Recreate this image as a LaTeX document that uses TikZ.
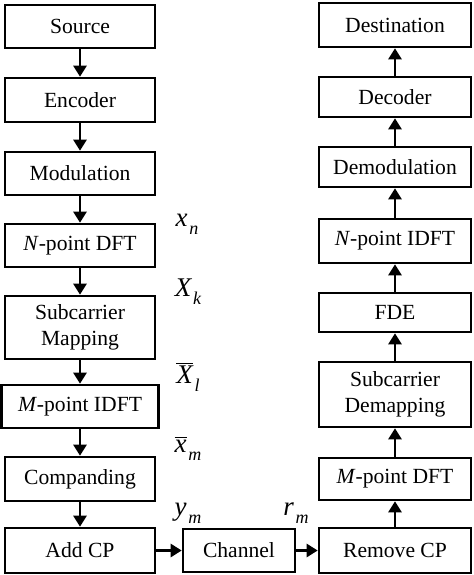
\documentclass[tikz,border=0pt]{standalone}
\usepackage{fontspec}
\setmainfont{Liberation Serif}
\usetikzlibrary{arrows.meta}
\tikzset{
  block/.style = { draw, line width=1.3pt, minimum width=75pt, minimum height=22pt, inner sep=0pt, align=center, font=\fontsize{10.8}{12.8}\selectfont },
  flow/.style  = { line width=1.3pt, -{Triangle[length=5.5pt,width=6.5pt]} },
  sig/.style   = { font=\fontsize{13.5}{13.5}\selectfont\itshape, inner sep=0pt }
}
\newcommand{\sigsub}[2]{#1\kern0.8pt\raisebox{-0.65ex}{\fontsize{9}{9}\selectfont #2}}

\begin{document}
\begin{tikzpicture}[x=0.5pt,y=-0.5pt]
\useasboundingbox (0,0) rectangle (474,575);
\node[block, minimum height=21.5pt] (src) at (80,26.5) {Source};
\node[block] (enc) at (80,100) {Encoder};
\node[block, minimum height=21.5pt] (mod) at (80,173.5) {Modulation};
\node[block, minimum height=21.5pt] (ndft) at (80,245.5) {\textit{N}-point DFT};
\node[block, minimum height=31.5pt] (map) at (80,327.5) {Subcarrier\\Mapping};
\node[block, minimum height=21.5pt, minimum width=78.5pt] (midft) at (80,406.5) {\textit{M}-point IDFT};
\node[block] (comp) at (80,479) {Companding};
\node[block, minimum height=22.5pt] (addcp) at (80,550.5) {Add CP};
\node[block, minimum height=21.5pt, minimum width=56pt] (chan) at (239,550.5) {Channel};
\node[block, minimum height=22.5pt, minimum width=76pt] (rmcp) at (395,550.5) {Remove CP};
\node[block, minimum height=21pt, minimum width=76pt] (mdft) at (395,479) {\textit{M}-point DFT};
\node[block, minimum height=32.5pt, minimum width=76pt] (demap) at (395,394.5) {Subcarrier\\Demapping};
\node[block, minimum height=19.5pt, minimum width=76pt] (fde) at (395,312.5) {FDE};
\node[block, minimum width=76pt] (nidft) at (395,241) {\textit{N}-point IDFT};
\node[block, minimum height=20pt, minimum width=76pt] (demod) at (395,167) {Demodulation};
\node[block, minimum height=20pt, minimum width=76pt] (dec) at (395,97) {Decoder};
\node[block, minimum width=76pt] (dest) at (395,25) {Destination};

\node[sig] (xn) at (187,224) {\sigsub{x}{n}};
\node[sig] (Xk) at (188,292) {\sigsub{X}{k}};
\node[sig] (Xl) at (188,377) {\sigsub{$\overline{\mbox{\itshape X}}$}{l}};
\node[sig] (xm) at (188,448) {\sigsub{$\overline{\mbox{\itshape x}}$}{m}};
\node[sig] (ym) at (188,513) {\sigsub{y}{m}};
\node[sig] (rm) at (296,513) {\sigsub{r}{m}};

\draw[flow] (src) -- (enc);
\draw[flow] (enc) -- (mod);
\draw[flow] (mod) -- (ndft);
\draw[flow] (ndft) -- (map);
\draw[flow] (map) -- (midft);
\draw[flow] (midft) -- (comp);
\draw[flow] (comp) -- (addcp);
\draw[flow] (addcp) -- (chan);
\draw[flow] (chan) -- (rmcp);
\draw[flow] (rmcp) -- (mdft);
\draw[flow] (mdft) -- (demap);
\draw[flow] (demap) -- (fde);
\draw[flow] (fde) -- (nidft);
\draw[flow] (nidft) -- (demod);
\draw[flow] (demod) -- (dec);
\draw[flow] (dec) -- (dest);
\end{tikzpicture}
\end{document}
